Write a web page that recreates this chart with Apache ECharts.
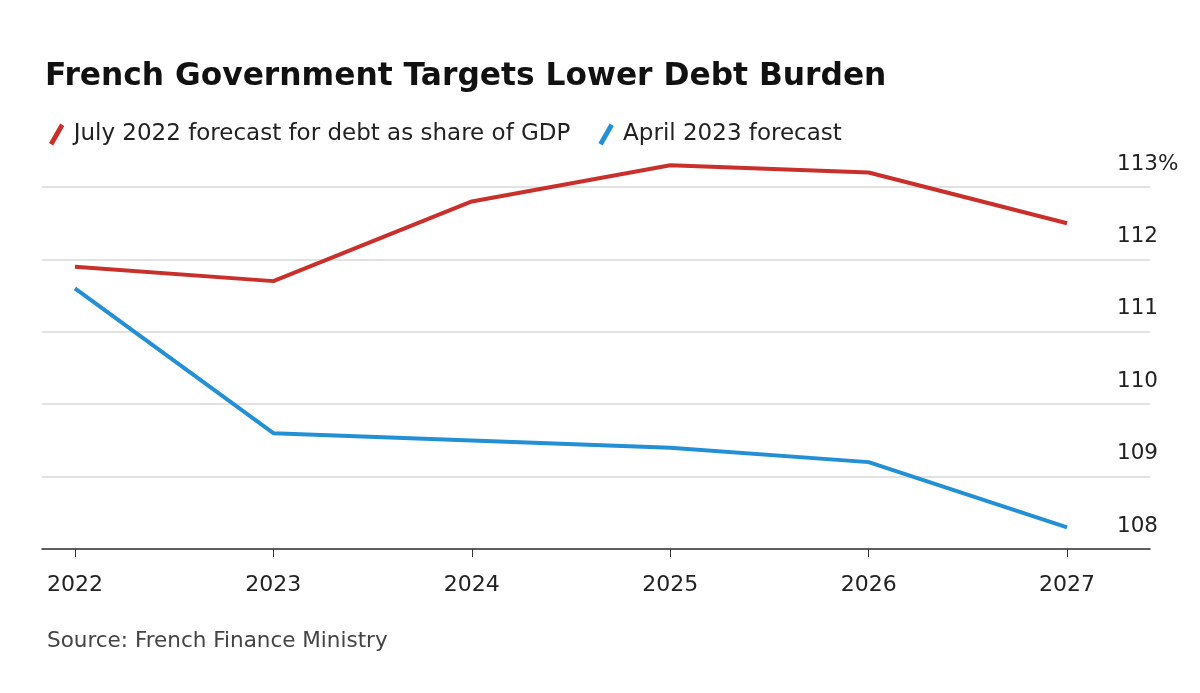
<!DOCTYPE html>
<html>
<head>
<meta charset="utf-8">
<script src="https://cdn.jsdelivr.net/npm/echarts@6/dist/echarts.min.js"></script>
<style>html,body{margin:0;padding:0;background:#fff}#box{width:1200px;height:693px}</style>
</head>
<body>
<div id="box"></div>
<script>
const years = [2022, 2023, 2024, 2025, 2026, 2027];
const july2022 = [111.9, 111.7, 112.8, 113.3, 113.2, 112.5];
const april2023 = [111.6, 109.6, 109.5, 109.4, 109.2, 108.3];

const slash = 'path://M0,14 L8,0 L11,1.8 L3,15.8 Z';
const font = '"DejaVu Sans", sans-serif';

let chart = echarts.init(document.getElementById('box'));
chart.setOption({
    animation: false,
    textStyle: { fontFamily: font },
    title: [
        { text: 'French Government Targets Lower Debt Burden', left: 40, top: 56,
          textStyle: { fontSize: 31.3, fontWeight: 'bold', color: '#111', fontFamily: font } },
        { text: 'Source: French Finance Ministry', left: 42, top: 625,
          textStyle: { fontSize: 21.5, fontWeight: 'normal', color: '#444', fontFamily: font } }
    ],
    legend: {
        left: 44, top: 118, itemWidth: 16, itemHeight: 22, itemGap: 28,
        textStyle: { fontSize: 23, color: '#222', fontFamily: font, padding: [0, 0, 0, 4] },
        data: [
            { name: 'July 2022 forecast for debt as share of GDP', icon: slash },
            { name: 'April 2023 forecast', icon: slash }
        ]
    },
    grid: { left: 42, right: 50, top: 187, bottom: 144 },
    xAxis: {
        type: 'value', min: 2021.834, max: 2027.418,
        axisLine: { lineStyle: { color: '#333', width: 1.5 } },
        axisTick: { show: true, customValues: years, length: 8, lineStyle: { color: '#333' } },
        axisLabel: { customValues: years, formatter: v => String(v), fontSize: 22, color: '#222', margin: 25 },
        splitLine: { show: false }
    },
    yAxis: {
        type: 'value', position: 'right', min: 108, max: 113, interval: 1,
        axisLine: { show: false }, axisTick: { show: false },
        splitLine: { lineStyle: { color: '#d9d9d9', width: 1.5 } },
        axisLabel: {
            align: 'left', verticalAlign: 'bottom', margin: -33, fontSize: 21.5, color: '#222',
            padding: [0, 0, 12, 0],
            formatter: v => v === 113 ? '113%' : String(v)
        }
    },
    series: [
        { name: 'July 2022 forecast for debt as share of GDP', type: 'line', clip: false,
          data: years.map((y, i) => [y, july2022[i]]), showSymbol: false,
          itemStyle: { color: '#c9302c' }, lineStyle: { width: 4, color: '#c9302c' } },
        { name: 'April 2023 forecast', type: 'line', clip: false,
          data: years.map((y, i) => [y, april2023[i]]), showSymbol: false,
          itemStyle: { color: '#238fd4' }, lineStyle: { width: 4, color: '#238fd4' } }
    ]
});
</script>
</body>
</html>
